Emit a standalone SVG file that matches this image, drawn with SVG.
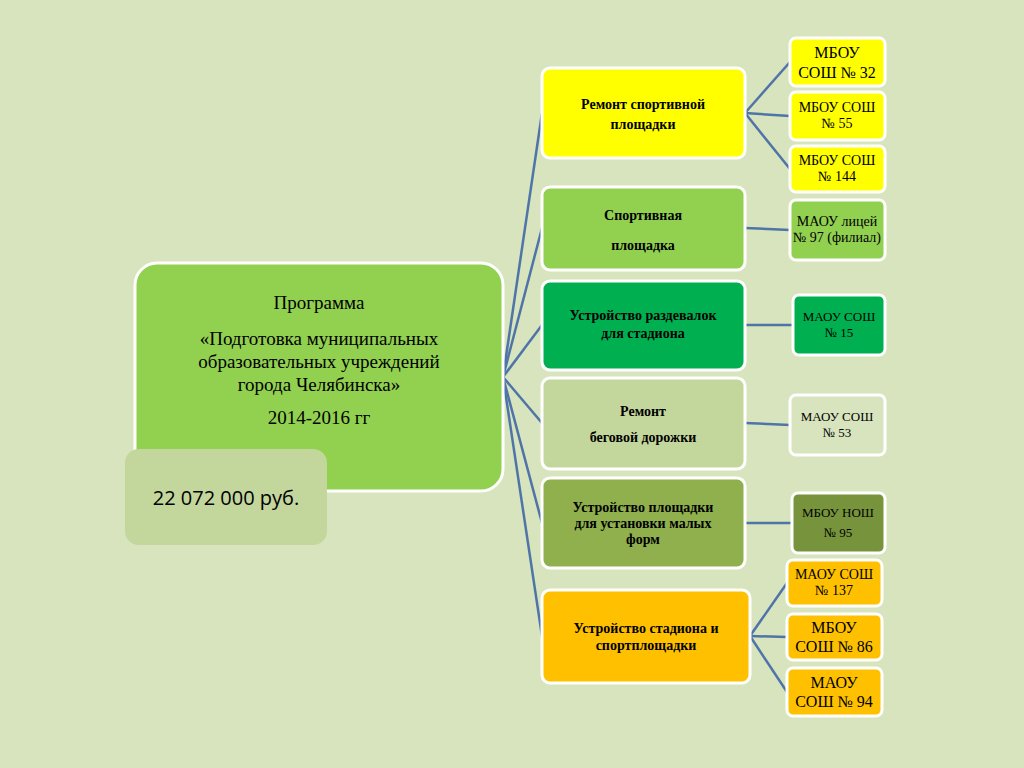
<svg xmlns="http://www.w3.org/2000/svg" width="1024" height="768" viewBox="0 0 1024 768">
<style>
.b{stroke:#fff;stroke-width:3}
.t{font-family:"Liberation Serif",serif;text-anchor:middle;fill:#000}
.m{font-size:14px;font-weight:bold}
.s{font-size:14px}
.c line{stroke:#4f74a8;stroke-width:2.5}
</style>
<rect width="1024" height="768" fill="#d7e4bd"/>
<g class="c">
<line x1="503" y1="377" x2="542" y2="113"/>
<line x1="503" y1="377" x2="542" y2="228"/>
<line x1="503" y1="377" x2="542" y2="325"/>
<line x1="503" y1="377" x2="542" y2="423"/>
<line x1="503" y1="377" x2="542" y2="523"/>
<line x1="503" y1="377" x2="542" y2="636"/>
<line x1="745" y1="113" x2="790" y2="62"/>
<line x1="745" y1="113" x2="790" y2="116"/>
<line x1="745" y1="113" x2="790" y2="169"/>
<line x1="745" y1="228" x2="790" y2="230"/>
<line x1="745" y1="325" x2="793" y2="325"/>
<line x1="745" y1="423" x2="790" y2="425"/>
<line x1="745" y1="523" x2="792" y2="523"/>
<line x1="750" y1="636" x2="787" y2="583"/>
<line x1="750" y1="636" x2="787" y2="637"/>
<line x1="750" y1="636" x2="787" y2="692"/>
</g>
<g id="main"><rect class="b" x="135" y="263" width="368" height="228" rx="22" fill="#92d050"/>
<text class="t" font-size="19"><tspan x="319" y="309">Программа</tspan><tspan x="319" y="345">«Подготовка муниципальных</tspan><tspan x="319" y="368">образовательных учреждений</tspan><tspan x="319" y="391">города Челябинска»</tspan><tspan x="319" y="424">2014-2016 гг</tspan></text></g>
<g id="sum"><rect x="125" y="449" width="202" height="96" rx="14" fill="#c3d69b"/>
<text x="226" y="505" font-family="'Open Sans',sans-serif" font-size="20" text-anchor="middle" fill="#000">22 072 000 руб.</text></g>
<g id="n1"><rect class="b" x="542" y="68" width="203" height="90" rx="8" fill="#ffff00"/><text class="t m" font-size="15"><tspan x="643" y="109">Ремонт спортивной</tspan><tspan x="643" y="129">площадки</tspan></text></g>
<g id="n2"><rect class="b" x="542" y="187" width="203" height="83" rx="8" fill="#92d050"/><text class="t m" font-size="16"><tspan x="643" y="220">Спортивная</tspan><tspan x="643" y="250">площадка</tspan></text></g>
<g id="n3"><rect class="b" x="542" y="281" width="203" height="89" rx="8" fill="#00b050"/><text class="t m" font-size="13"><tspan x="643" y="320">Устройство раздевалок</tspan><tspan x="643" y="338">для стадиона</tspan></text></g>
<g id="n4"><rect class="b" x="542" y="378" width="203" height="91" rx="8" fill="#c3d69b"/><text class="t m" font-size="13"><tspan x="643" y="416">Ремонт</tspan><tspan x="643" y="442">беговой дорожки</tspan></text></g>
<g id="n5"><rect class="b" x="542" y="478" width="203" height="90" rx="8" fill="#8fb04c"/><text class="t m" font-size="13"><tspan x="643" y="512">Устройство площадки</tspan><tspan x="643" y="528">для установки малых</tspan><tspan x="643" y="544">форм</tspan></text></g>
<g id="n6"><rect class="b" x="542" y="590" width="208" height="93" rx="8" fill="#ffc000"/><text class="t m" font-size="13"><tspan x="646" y="633">Устройство стадиона и</tspan><tspan x="646" y="650">спортплощадки</tspan></text></g>
<g id="r1"><rect class="b" x="790" y="38" width="95" height="48" rx="6" fill="#ffff00"/><text class="t" font-size="16"><tspan x="837" y="58">МБОУ</tspan><tspan x="837" y="78">СОШ № 32</tspan></text></g>
<g id="r2"><rect class="b" x="790" y="92" width="95" height="48" rx="6" fill="#ffff00"/><text class="t s"><tspan x="837" y="112">МБОУ СОШ</tspan><tspan x="837" y="128">№ 55</tspan></text></g>
<g id="r3"><rect class="b" x="790" y="146" width="95" height="46" rx="6" fill="#ffff00"/><text class="t s"><tspan x="837" y="165">МБОУ СОШ</tspan><tspan x="837" y="181">№ 144</tspan></text></g>
<g id="r4"><rect class="b" x="790" y="200" width="95" height="60" rx="6" fill="#92d050"/><text class="t s"><tspan x="837" y="226">МАОУ лицей</tspan><tspan x="837" y="242">№ 97 (филиал)</tspan></text></g>
<g id="r5"><rect class="b" x="793" y="295" width="92" height="60" rx="6" fill="#00b050"/><text class="t" font-size="13"><tspan x="839" y="321">МАОУ СОШ</tspan><tspan x="839" y="337">№ 15</tspan></text></g>
<g id="r6"><rect class="b" x="790" y="395" width="95" height="60" rx="6" fill="#d7e4bd"/><text class="t" font-size="13"><tspan x="837" y="421">МАОУ СОШ</tspan><tspan x="837" y="437">№ 53</tspan></text></g>
<g id="r7"><rect class="b" x="792" y="493" width="93" height="60" rx="6" fill="#77933c"/><text class="t" font-size="13"><tspan x="838" y="517">МБОУ НОШ</tspan><tspan x="838" y="537">№ 95</tspan></text></g>
<g id="r8"><rect class="b" x="787" y="560" width="95" height="46" rx="6" fill="#ffc000"/><text class="t s"><tspan x="834" y="579">МАОУ СОШ</tspan><tspan x="834" y="595">№ 137</tspan></text></g>
<g id="r9"><rect class="b" x="787" y="614" width="95" height="46" rx="6" fill="#ffc000"/><text class="t" font-size="16"><tspan x="834" y="633">МБОУ</tspan><tspan x="834" y="652">СОШ № 86</tspan></text></g>
<g id="r10"><rect class="b" x="787" y="668" width="95" height="48" rx="6" fill="#ffc000"/><text class="t" font-size="16"><tspan x="834" y="688">МАОУ</tspan><tspan x="834" y="707">СОШ № 94</tspan></text></g>
</svg>
